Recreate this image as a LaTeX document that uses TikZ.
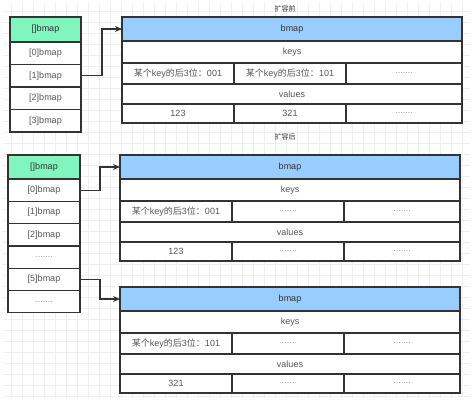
\documentclass[tikz,border=0pt]{standalone}
\usepackage{fontspec}
\setmainfont{Liberation Sans}
\newfontfamily\cjk{Noto Sans CJK SC}
\usetikzlibrary{arrows.meta}
\usetikzlibrary{positioning}

\definecolor{linegray}{HTML}{333333}
\definecolor{txtgray}{HTML}{555555}
\definecolor{dotgray}{HTML}{999999}
\definecolor{hdrgreen}{HTML}{80F5BE}
\definecolor{hdrblue}{HTML}{99CCFF}
\definecolor{gridgray}{HTML}{EFEFEF}

\newcommand{\lowbits}[1]{{\cjk 某个}key{\cjk 的后}3{\cjk 位：}#1}
\newcommand{\moredots}{{\color{dotgray}.......}}

\tikzset{
  cell/.style={draw=linegray, line width=1.2pt, fill=white, inner sep=0pt, outer sep=0pt,
               anchor=north west, text=txtgray, font=\fontsize{9}{10}\selectfont},
  greenhead/.style={cell, fill=hdrgreen, text=linegray},
  bluehead/.style={cell, fill=hdrblue, text=linegray},
  phase/.style={font=\cjk\fontsize{7}{8}\selectfont, text=linegray},
  link/.style={draw=linegray, line width=1.2pt, -{Stealth[length=7pt,width=6pt]}},
}

% one bmap: header, keys, key row, values, value row
\newcommand{\bmaptable}[6]{%
  \node[bluehead, minimum width=340pt, minimum height=24pt] (#1head) at #2 {bmap};
  \node[cell, minimum width=340pt, minimum height=22pt, below=0pt of #1head] (#1keys) {keys};
  \node[cell, minimum width=112pt, minimum height=21pt] (#1k1) at (#1keys.south west) {#3};
  \node[cell, minimum width=112pt, minimum height=21pt, right=0pt of #1k1] (#1k2) {#4};
  \node[cell, minimum width=116pt, minimum height=21pt, right=0pt of #1k2] (#1k3) {\moredots};
  \node[cell, minimum width=340pt, minimum height=20pt] (#1vals) at (#1k1.south west) {values};
  \node[cell, minimum width=112pt, minimum height=19pt] (#1v1) at (#1vals.south west) {#5};
  \node[cell, minimum width=112pt, minimum height=19pt, right=0pt of #1v1] (#1v2) {#6};
  \node[cell, minimum width=116pt, minimum height=19pt, right=0pt of #1v2] (#1v3) {\moredots};
}

\begin{document}
\begin{tikzpicture}[x=1pt, y=-1pt]
	\useasboundingbox (0,0) rectangle (474,402);
	\draw[gridgray, line width=0.4pt, step=11pt] (3,3) grid (470,398);

	% before growing
	\node[phase] (before) at (285,9) {扩容前};
	\begin{scope}[every node/.append style={minimum width=71pt}]
		\node[greenhead, minimum height=25pt] (a) at (10,17) {[]bmap};
		\node[cell, minimum height=22.5pt, below=0pt of a] (a0) {[0]bmap};
		\node[cell, minimum height=22.5pt, below=0pt of a0] (a1) {[1]bmap};
		\node[cell, minimum height=22.5pt, below=0pt of a1] (a2) {[2]bmap};
		\node[cell, minimum height=22.5pt, below=0pt of a2] (a3) {[3]bmap};
	\end{scope}
	\bmaptable{ta}{(122,17)}{\lowbits{001}}{\lowbits{101}}{123}{321}
	\draw[link] (a1.east) -- ++(21,0) |- (tahead.west);

	% after growing
	\node[phase] (after) at (285,137) {扩容后};
	\begin{scope}[every node/.append style={minimum width=72pt}]
		\node[greenhead, minimum height=24pt] (b) at (8,155) {[]bmap};
		\node[cell, minimum height=22.3pt, below=0pt of b] (b0) {[0]bmap};
		\node[cell, minimum height=22.3pt, below=0pt of b0] (b1) {[1]bmap};
		\node[cell, minimum height=22.3pt, below=0pt of b1] (b2) {[2]bmap};
		\node[cell, minimum height=22.3pt, below=0pt of b2] (b3) {\moredots};
		\node[cell, minimum height=22.3pt, below=0pt of b3] (b5) {[5]bmap};
		\node[cell, minimum height=22.3pt, below=0pt of b5] (b6) {\moredots};
	\end{scope}
	\bmaptable{tb}{(120,155)}{\lowbits{001}}{\moredots}{123}{\moredots}
	\bmaptable{tc}{(120,287)}{\lowbits{101}}{\moredots}{321}{\moredots}
	\draw[link] (b0.east) -- ++(20,0) |- (tbhead.west);
	\draw[link] (b5.east) -- ++(20,0) |- (tchead.west);
\end{tikzpicture}
\end{document}
